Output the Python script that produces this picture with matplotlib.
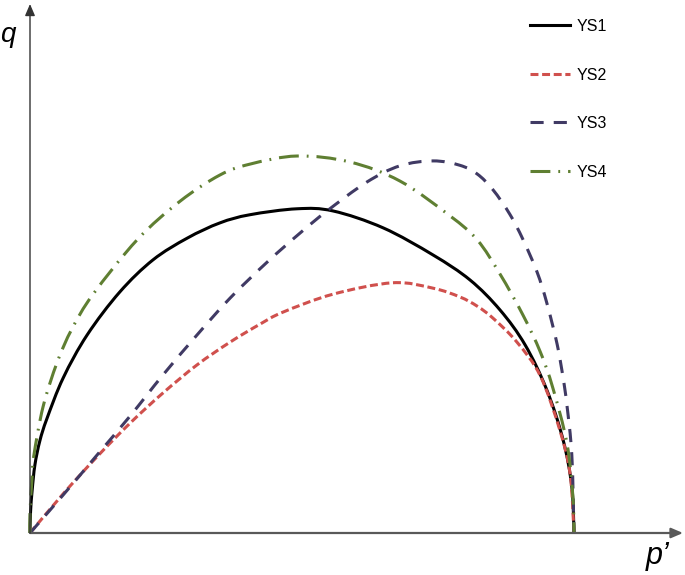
import numpy as np
import matplotlib
matplotlib.use("Agg")
from matplotlib import pyplot as plt
from matplotlib.path import Path
from matplotlib.patches import PathPatch
from matplotlib.lines import Line2D

plt.rcParams['font.family'] = ['Liberation Sans', 'DejaVu Sans']

# yield surfaces, p' and q normalised by p0
ys1_p = [0, 0.001, 0.004, 0.009, 0.018, 0.031, 0.061, 0.105, 0.165, 0.226, 0.289, 0.349, 0.404,
         0.491, 0.557, 0.649, 0.741, 0.809, 0.864, 0.910, 0.950, 0.980, 0.996, 1.0]
ys1_q = [0, 0.039, 0.079, 0.125, 0.169, 0.210, 0.285, 0.364, 0.443, 0.502, 0.542, 0.570, 0.585,
         0.596, 0.592, 0.561, 0.511, 0.465, 0.410, 0.346, 0.263, 0.171, 0.085, 0]

ys2_p = [0, 0.061, 0.123, 0.184, 0.244, 0.307, 0.368, 0.423, 0.465, 0.557, 0.667, 0.741, 0.790,
         0.822, 0.851, 0.895, 0.938, 0.974, 0.993, 1.0]
ys2_q = [0, 0.072, 0.140, 0.202, 0.257, 0.309, 0.351, 0.384, 0.406, 0.439, 0.460, 0.450, 0.434,
         0.417, 0.395, 0.351, 0.289, 0.189, 0.107, 0]

ys3_p = [0, 0.061, 0.123, 0.184, 0.244, 0.307, 0.368, 0.436, 0.496, 0.546, 0.619, 0.680, 0.741,
         0.790, 0.822, 0.851, 0.882, 0.906, 0.932, 0.950, 0.969, 0.980, 0.987, 0.996, 1.0]
ys3_q = [0, 0.070, 0.143, 0.215, 0.290, 0.364, 0.432, 0.498, 0.551, 0.592, 0.645, 0.675, 0.684,
         0.676, 0.660, 0.631, 0.586, 0.540, 0.480, 0.423, 0.347, 0.285, 0.235, 0.143, 0]

ys4_p = [0, 0, 0.004, 0.007, 0.024, 0.050, 0.077, 0.116, 0.197, 0.276, 0.349, 0.404, 0.491,
         0.588, 0.680, 0.772, 0.822, 0.864, 0.906, 0.938, 0.961, 0.987, 0.998, 1.0]
ys4_q = [0, 0.037, 0.105, 0.142, 0.232, 0.314, 0.375, 0.439, 0.539, 0.610, 0.658, 0.678, 0.693,
         0.682, 0.647, 0.583, 0.539, 0.476, 0.401, 0.333, 0.267, 0.165, 0.066, 0]

labels = ["YS1", "YS2", "YS3", "YS4"]


def smooth_path(xs, ys):
    # Excel-like smoothed line: bezier segments through the read points
    pts = np.column_stack([xs, ys]).astype(float)
    ext = np.vstack([pts[0], pts, pts[-1]])
    verts = [pts[0]]
    codes = [Path.MOVETO]
    for i in range(1, len(ext) - 2):
        p0, p1, p2, p3 = ext[i - 1], ext[i], ext[i + 1], ext[i + 2]
        verts += [p1 + (p2 - p0) / 6, p2 - (p3 - p1) / 6, p2]
        codes += [Path.CURVE4] * 3
    return Path(verts, codes)


fig = plt.figure(figsize=(6.85, 5.75), dpi=100)
ax = fig.add_axes([0, 0, 1, 1])
ax.set_xlim(-30 / 544, 655 / 544)
ax.set_ylim(-42 / 544, 533 / 544)
ax.axis('off')

lw = 2.2
styles = [
    dict(color='black', ls='-'),
    dict(color='#d0504d', ls=(0, (2.6, 1.2))),
    dict(color='#403a64', ls=(0, (4.3, 3.3))),
    dict(color='#5f7f32', ls=(0, (6.5, 2.6, 0.6, 2.6))),
]
series = [(ys1_p, ys1_q), (ys2_p, ys2_q), (ys3_p, ys3_q), (ys4_p, ys4_q)]

handles = []
for (xs, ys), st, lab in zip(series, styles, labels):
    ax.add_patch(PathPatch(smooth_path(xs, ys), fill=False, edgecolor=st['color'],
                           lw=lw, linestyle=st['ls'], capstyle='butt'))
    handles.append(Line2D([], [], color=st['color'], lw=lw, ls=st['ls'], label=lab))

# axes with arrows
ax.annotate('', xy=(653 / 544, 0), xytext=(0, 0),
            arrowprops=dict(arrowstyle='-|>,head_length=0.7,head_width=0.3', color='#595959',
                            lw=1.6, shrinkA=0, shrinkB=0))
ax.annotate('', xy=(0, 529 / 544), xytext=(0, 0),
            arrowprops=dict(arrowstyle='-|>,head_length=0.7,head_width=0.3', color='#333333',
                            lw=1.0, shrinkA=0, shrinkB=0))

ax.text(-30 / 544, 491 / 544, 'q', fontsize=20, style='italic', ha='left', va='baseline')
ax.text(616 / 544, -31 / 544, 'p’', fontsize=22, style='italic', ha='left', va='baseline')

ax.legend(handles=handles, loc='upper left', bbox_to_anchor=(530 / 685, 1 - 19 / 575),
          bbox_transform=fig.transFigure, frameon=False, fontsize=11.5,
          borderpad=0, borderaxespad=0, labelspacing=2.1,
          handlelength=2.5, handletextpad=0.4)

plt.savefig('out.png', dpi=100)
